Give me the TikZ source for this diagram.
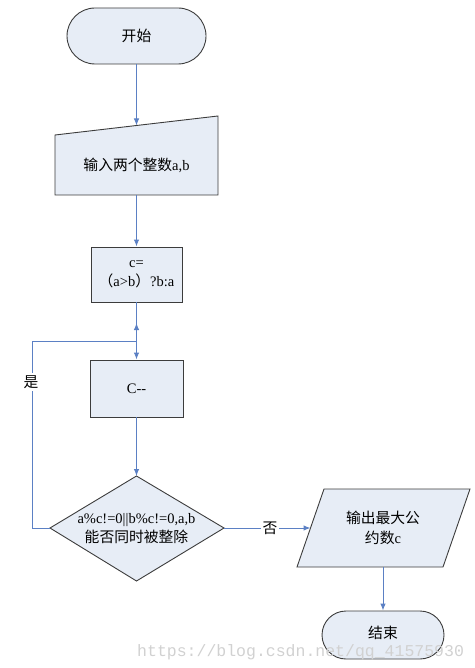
\documentclass[tikz,border=0pt]{standalone}
\usepackage{fontspec}
\setmainfont{Liberation Serif}
\newfontfamily\cjk{Noto Sans CJK SC}[Scale=1.02]
\newfontfamily\wmfont{Liberation Mono}
\usetikzlibrary{arrows.meta,shapes.misc}
\definecolor{flowblue}{HTML}{5B80C4}
\definecolor{boxfill}{HTML}{E7EDF6}
\definecolor{boxline}{HTML}{3C3C3C}
\tikzset{
  shapebox/.style={draw=boxline,fill=boxfill,line width=0.9pt},
  termbox/.style={shapebox,rounded rectangle,inner sep=0pt},
  procbox/.style={shapebox,rectangle,inner sep=0pt},
  txt/.style={align=center,font=\fontsize{14.5}{19.5}\selectfont,inner sep=0pt},
  flow/.style={draw=flowblue,line width=1pt,-{Latex[length=7pt,width=5.5pt]}},
  plainflow/.style={draw=flowblue,line width=1pt},
  lbl/.style={fill=white,inner sep=2pt,font=\fontsize{14.5}{16}\selectfont}
}
\begin{document}
\begin{tikzpicture}[x=1pt,y=-1pt]
\useasboundingbox (0,0) rectangle (474,668);
% start
\node[termbox,minimum width=139pt,minimum height=56pt] (start) at (136.5,36) {};
\node[txt] (starttxt) at (136.5,36) {\cjk 开始};
% input (manual input)
\draw[shapebox] (55,135) -- (218,116) -- (218,195) -- (55,195) -- cycle;
\node[txt] (input) at (136.5,165) {{\cjk 输入两个整数}a,b};
\coordinate (intop) at (136.5,125.5);
\coordinate (inbot) at (136.5,195);
% c= box
\node[procbox,minimum width=91pt,minimum height=55pt] (cbox) at (136.5,274.5) {};
\node[txt] (ctxt) at (136.5,274.5) {c=\\{\cjk （}a>b{\cjk ）}?b:a};
% C-- box
\node[procbox,minimum width=93pt,minimum height=57pt] (dec) at (136.5,388.5) {};
\node[txt] (dectxt) at (136.5,388.5) {C{-}{-}};
% diamond
\coordinate (dT) at (136.5,476);
\coordinate (dR) at (224,528);
\coordinate (dB) at (136.5,581);
\coordinate (dL) at (50,528);
\draw[shapebox] (dT) -- (dR) -- (dB) -- (dL) -- cycle;
\node[txt] (cond) at (136.5,528.5) {a\%c!=0||b\%c!=0,a,b\\{\cjk 能否同时被整除}};
% output parallelogram
\draw[shapebox] (324,489) -- (470,489) -- (443,567) -- (297,567) -- cycle;
\node[txt] (out) at (383,528) {{\cjk 输出最大公}\\{\cjk 约数}c};
\coordinate (outL) at (310.5,528);
\coordinate (outB) at (383,567);
% end
\node[termbox,minimum width=122pt,minimum height=48pt] (end) at (383,635) {};
\node[txt] (endtxt) at (383,633) {\cjk 结束};
% connectors
\draw[flow] (start) -- (intop);
\draw[flow] (inbot) -- (cbox);
\draw[flow] (cbox) -- (dec);
\draw[flow] (dec) -- (dT);
\coordinate (lp1) at (32,528);
\coordinate (lp2) at (32,341);
\coordinate (lp3) at (136.5,341);
\coordinate (lpend) at (136.5,323);
\draw[plainflow] (dL) -- (lp1) -- (lp2) -- (lp3);
\draw[flow] (lp3) -- (lpend);
\node[lbl] (yes) at (31,382) {\cjk 是};
\draw[flow] (dR) -- (outL);
\node[lbl] (no) at (270,528) {\cjk 否};
\draw[flow] (outB) -- (end);
% watermark
\node[text=black!18,font=\wmfont\fontsize{16.5}{18}\selectfont,inner sep=0pt,anchor=west] (wm) at (137,652) {https://blog.csdn.net/qq\_41575930};
\end{tikzpicture}
\end{document}
